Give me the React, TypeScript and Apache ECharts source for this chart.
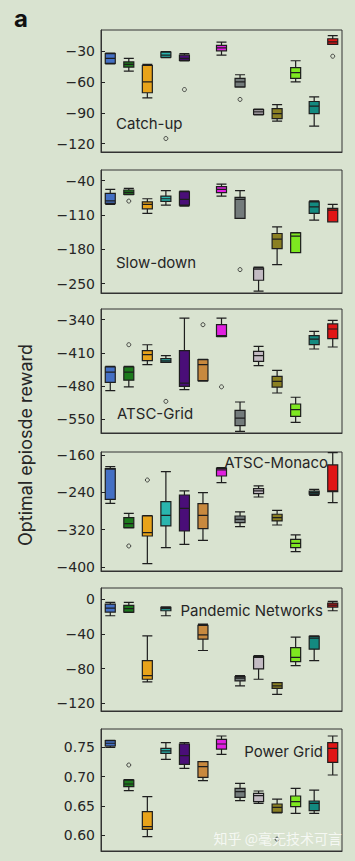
import React, { useEffect, useRef } from "react";
import * as echarts from "echarts";

const categories = ["M1", "M2", "M3", "M4", "M5", "M6", "M7", "M8", "M9", "M10", "M11", "M12", "M13"];
const colors = ["#4470c4", "#1c7a1c", "#e8a31a", "#2ab5ae", "#4a0e78", "#c8893e", "#e020e0", "#737b7b", "#c3bbc3", "#8b8022", "#7ee820", "#138a80", "#e01515"];

// [category index, min, Q1, median, Q3, max]
const catchUpBoxes = [
  [0, -42.5, -42, -37, -32.5, -32], [1, -49.5, -45.5, -43, -40.5, -37], [2, -75.5, -70.5, -60, -44, -43],
  [3, -36.5, -36, -34, -31, -30.5], [4, -39.5, -39, -37, -34, -32.5], [6, -34, -29.7, -26.8, -24.5, -21.2],
  [7, -65, -64.8, -60, -56.6, -53], [8, -92, -91.5, -89, -87, -86.5], [9, -98, -95.6, -90.8, -86, -82],
  [10, -60, -56.6, -51, -46, -39.4], [11, -103, -90.8, -83.6, -79, -74.5], [12, -23.5, -23.5, -21, -18, -15],
];
const catchUpOutliers = [[3, -115], [4, -67.4], [7, -77], [12, -35]];
const catchUpTicks = [-30, -60, -90, -120];

const slowDownBoxes = [
  [0, -88.4, -86.4, -81, -66, -57.7], [1, -68.5, -68, -64, -59, -55.7], [2, -106.8, -97.3, -88.4, -83, -76.8],
  [3, -89.8, -82.3, -76.8, -71.4, -60.4], [4, -91.8, -89.8, -78, -62.5, -61], [6, -71.4, -64.5, -57.7, -52.3, -46.8],
  [7, -117, -117, -78.2, -74, -60.4], [8, -265, -243, -220.6, -218, -216], [9, -211, -178.4, -159.3, -147.7, -134],
  [10, -186.6, -186.6, -153, -146.3, -146], [11, -120.4, -106.8, -93.2, -83, -81], [12, -123.8, -123.8, -100, -96.6, -88.4],
];
const slowDownOutliers = [[1, -81.6], [7, -221.3]];
const slowDownTicks = [-40, -110, -180, -250];

const atscGridBoxes = [
  [0, -490, -472.5, -451, -440, -438.7], [1, -482, -468, -451, -440, -438.7], [2, -435, -426.7, -414, -405.5, -393],
  [3, -430.5, -430.2, -427, -422.5, -416], [4, -488, -481, -474, -405.5, -336.5], [5, -470, -469, -435, -424.6, -424],
  [6, -376, -375.2, -373.8, -350.6, -336.5], [7, -576, -564, -548, -531.7, -514], [8, -437, -428, -416, -407, -396.4],
  [9, -495, -482.4, -470.4, -459.8, -447], [10, -557, -544.4, -530.3, -518.3, -504], [11, -402, -392.9, -380.9, -373.8, -364.7],
  [12, -397.8, -380, -359.7, -349, -341.4],
];
const atscGridOutliers = [[1, -392.9], [3, -512.7], [5, -350.6], [6, -482]];
const atscGridTicks = [-340, -410, -480, -550];

const monacoBoxes = [
  [0, -263.6, -255, -190.5, -189.3, -185], [1, -316, -315.7, -307, -294.3, -285], [2, -392.9, -333.6, -326.4, -290.7, -290],
  [3, -358.6, -312, -289.3, -260, -195.7], [4, -351.4, -322.9, -274.3, -245.7, -237], [5, -342.9, -317.9, -289.3, -264.3, -240.7],
  [6, -219.3, -205, -192, -188.6, -187], [7, -313.6, -305, -297.9, -290.7, -282], [8, -250, -243, -237, -232, -226.4],
  [9, -310, -301.4, -294.3, -287, -278.6], [10, -367, -358.6, -349.3, -340.7, -331.4], [11, -246.4, -244, -240.5, -237.5, -233.6],
  [12, -262, -238.6, -237, -181.4, -155],
];
const monacoOutliers = [[1, -355], [2, -213.6]];
const monacoTicks = [-160, -240, -320, -400];

const pandemicBoxes = [
  [0, -19.2, -15, -10.4, -5.8, -3.8], [1, -15.5, -15, -11, -7.3, -3.8], [2, -95.4, -92.3, -88, -70.8, -42.3],
  [3, -19.2, -13.5, -11, -9.6, -9], [5, -59.2, -46.2, -41.2, -30.4, -28.8], [7, -100, -94.2, -91, -89.2, -88],
  [8, -92.3, -80.4, -67, -66.2, -65], [9, -109.6, -102.7, -100, -96.2, -96], [10, -76.5, -72, -67, -55.8, -43.8],
  [11, -70.8, -57.7, -45, -43, -42.3], [12, -13.5, -9.2, -7, -4.6, -2.7],
];
const pandemicOutliers: number[][] = [];
const pandemicTicks = [0, -40, -80, -120];

const powerBoxes = [
  [0, 0.75, 0.7523, 0.757, 0.7614, 0.762], [1, 0.6759, 0.6827, 0.6873, 0.6941, 0.695], [2, 0.5972, 0.6097, 0.6143, 0.64, 0.6656],
  [3, 0.7295, 0.7397, 0.744, 0.7483, 0.758], [4, 0.7141, 0.7209, 0.7357, 0.7557, 0.758], [5, 0.693, 0.6987, 0.717, 0.7255, 0.7255],
  [6, 0.738, 0.7471, 0.7557, 0.7637, 0.7694], [7, 0.6588, 0.6645, 0.6742, 0.6799, 0.6884], [8, 0.6542, 0.6571, 0.6673, 0.6713, 0.6753],
  [9, 0.638, 0.6388, 0.6474, 0.6531, 0.6616], [10, 0.6371, 0.6485, 0.6571, 0.6668, 0.6799], [11, 0.6371, 0.6417, 0.6542, 0.6582, 0.677],
  [12, 0.7027, 0.7243, 0.7483, 0.758, 0.7694],
];
const powerOutliers = [[1, 0.7198], [9, 0.593]];
const powerTicks = [0.75, 0.7, 0.65, 0.6];

const panelNames = ["Catch-up", "Slow-down", "ATSC-Grid", "ATSC-Monaco", "Pandemic Networks", "Power Grid"];

const FONT = "Inter, 'Noto Sans', sans-serif";
const TICK_FONT = "'DejaVu Sans', sans-serif";
const INK = "#262626";

export default function App() {
  const ref = useRef<HTMLDivElement>(null);
  useEffect(() => {
    if (!ref.current) return;
    const chart = echarts.init(ref.current, null, { renderer: "svg" });
    const panels = [
      { boxes: catchUpBoxes, outliers: catchUpOutliers, ticks: catchUpTicks, min: -128.1, max: -9.5, top: 30, height: 122, dec: 0 },
      { boxes: slowDownBoxes, outliers: slowDownOutliers, ticks: slowDownTicks, min: -269, max: -18.2, top: 170, height: 123, dec: 0 },
      { boxes: atscGridBoxes, outliers: atscGridOutliers, ticks: atscGridTicks, min: -579.6, max: -317.4, top: 309, height: 124, dec: 0 },
      { boxes: monacoBoxes, outliers: monacoOutliers, ticks: monacoTicks, min: -408.6, max: -153.6, top: 452, height: 119, dec: 0 },
      { boxes: pandemicBoxes, outliers: pandemicOutliers, ticks: pandemicTicks, min: -128.8, max: 12.7, top: 588, height: 123, dec: 0 },
      { boxes: powerBoxes, outliers: powerOutliers, ticks: powerTicks, min: 0.5727, max: 0.7814, top: 729, height: 122, dec: 2 },
    ];
    const grids: any[] = [];
    const xAxes: any[] = [];
    const yAxes: any[] = [];
    const series: any[] = [];
    panels.forEach((p, i) => {
      grids.push({ left: 101, width: 241, top: p.top, height: p.height, show: true, borderColor: "#333", borderWidth: 1, backgroundColor: "transparent" });
      xAxes.push({
        type: "category", gridIndex: i, data: categories, boundaryGap: true,
        axisLine: { onZero: false, lineStyle: { color: "#333", width: 1 } },
        axisTick: { inside: true, length: 5, alignWithLabel: true, lineStyle: { color: "#222", width: 1.5 } },
        axisLabel: { show: false }, splitLine: { show: false },
      });
      yAxes.push({
        type: "value", gridIndex: i, min: p.min, max: p.max,
        axisLine: { show: true, onZero: false, lineStyle: { color: "#333", width: 1 } },
        axisTick: { show: true, inside: true, length: 4, customValues: p.ticks, lineStyle: { color: "#222" } },
        axisLabel: {
          customValues: p.ticks, margin: 6, fontSize: 14, color: INK, fontFamily: TICK_FONT,
          formatter: (v: number) => v.toFixed(p.dec).replace("-", "\u2212"),
        },
        splitLine: { show: false },
      });
      series.push({
        type: "boxplot", xAxisIndex: i, yAxisIndex: i, boxWidth: [10, 10],
        encode: { x: 0, y: [1, 2, 3, 4, 5] },
        data: p.boxes.map((b) => ({ value: b, itemStyle: { color: colors[b[0]], borderColor: "#1e1e1e", borderWidth: 1.2 } })),
        emphasis: { disabled: true },
      });
      series.push({
        type: "scatter", xAxisIndex: i, yAxisIndex: i, symbol: "circle", symbolSize: 4,
        data: p.outliers,
        itemStyle: { color: "rgba(0,0,0,0)", borderColor: "#222", borderWidth: 1 },
        emphasis: { disabled: true },
      });
    });
    const label = (text: string, x: number, y: number, align = "left") => ({
      type: "text", x, y, z: 100,
      style: { text, fill: INK, font: `15px ${FONT}`, textAlign: align, textVerticalAlign: "middle" },
    });
    chart.setOption({
      animation: false,
      backgroundColor: "#d9e3d0",
      grid: grids,
      xAxis: xAxes,
      yAxis: yAxes,
      series,
      graphic: [
        { type: "text", x: 14, y: 18, style: { text: "a", fill: "#111", font: `bold 24px ${FONT}`, textVerticalAlign: "middle" } },
        {
          type: "text", x: 25, y: 445, rotation: Math.PI / 2,
          style: { text: "Optimal epiosde reward", fill: INK, font: `18px ${FONT}`, textAlign: "center", textVerticalAlign: "middle" },
        },
        label(panelNames[0], 116, 123),
        label(panelNames[1], 116, 262),
        label(panelNames[2], 117, 413),
        label(panelNames[3], 328, 462, "right"),
        label(panelNames[4], 323, 610, "right"),
        label(panelNames[5], 323, 751, "right"),
        {
          type: "text", x: 342, y: 838, z: 100,
          style: { text: "知乎 @毫无技术可言", fill: "rgba(255,255,255,0.75)", font: "14px 'Noto Sans CJK SC', sans-serif", textAlign: "right", textVerticalAlign: "middle" },
        },
      ],
    });
    return () => chart.dispose();
  }, []);
  return <div ref={ref} style={{ position: "absolute", left: 0, top: 0, width: 355, height: 861 }} />;
}
